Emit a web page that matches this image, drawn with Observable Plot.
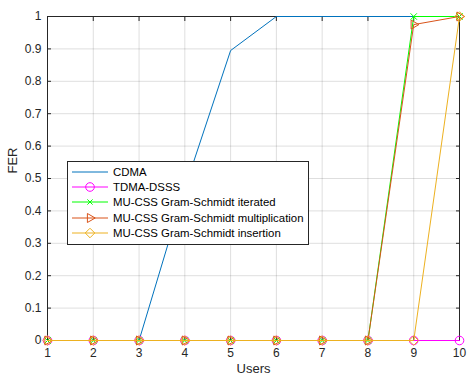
<!DOCTYPE html>
<html>
<head>
<meta charset="utf-8">
<script src="https://cdn.jsdelivr.net/npm/d3@7"></script>
<script src="https://cdn.jsdelivr.net/npm/@observablehq/plot@0.6"></script>
<style>
  html, body { margin: 0; padding: 0; background: #fff; }
  #wrap { position: relative; width: 474px; height: 382px; font-family: "Liberation Sans", Arial, sans-serif; }
  #legend { position: absolute; left: 67px; top: 161px; width: 242px; background: #fff; border: 1px solid #262626; box-sizing: border-box; padding: 2px 0 3px 0; }
  .row { display: flex; align-items: center; height: 15.4px; font-size: 11.4px; color: #000; white-space: nowrap; }
  .row svg { flex: none; margin-left: 4px; margin-right: 5px; }
</style>
</head>
<body>
<div id="wrap"></div>
<script>
const users = [1, 2, 3, 4, 5, 6, 7, 8, 9, 10];
const yTicks = [0, 0.1, 0.2, 0.3, 0.4, 0.5, 0.6, 0.7, 0.8, 0.9, 1];
const seriesNames = ["CDMA", "TDMA-DSSS", "MU-CSS Gram-Schmidt iterated", "MU-CSS Gram-Schmidt multiplication", "MU-CSS Gram-Schmidt insertion"];
const cdma          = [0, 0, 0, 0.47, 0.895, 1, 1, 1, 1, 1];
const tdma          = [0, 0, 0, 0, 0, 0, 0, 0, 0, 0];
const gsIterated    = [0, 0, 0, 0, 0, 0, 0, 0, 1, 1];
const gsMult        = [0, 0, 0, 0, 0, 0, 0, 0, 0.975, 1];
const gsInsertion   = [0, 0, 0, 0, 0, 0, 0, 0, 0, 1];
const colors  = ["#0072BD", "#FF00FF", "#00FF00", "#D95319", "#EDB120"];
const symbols = [null, "circle", "times", "triangle2", "diamond2"];
const rotations = [0, 0, 0, 90, 0];

const allValues = [cdma, tdma, gsIterated, gsMult, gsInsertion];
const rows = [];
allValues.forEach((vals, si) => vals.forEach((v, i) => rows.push({series: seriesNames[si], si, users: users[i], fer: v})));

const marks = [
  Plot.gridX(users, {stroke: "#000", strokeOpacity: 0.13}),
  Plot.gridY(yTicks, {stroke: "#000", strokeOpacity: 0.13}),
  Plot.frame({stroke: "#262626"}),
  Plot.axisX(users, {anchor: "bottom", tickSize: -4, tickPadding: 12, fontSize: 12, color: "#262626", stroke: "#262626", label: null}),
  Plot.axisX(users, {anchor: "top", tickSize: -4, tickFormat: () => "", stroke: "#262626", label: null}),
  Plot.axisY(yTicks, {anchor: "left", tickSize: -4, tickPadding: 10, fontSize: 12, color: "#262626", stroke: "#262626", label: null, tickFormat: d => String(d)}),
  Plot.axisY(yTicks, {anchor: "right", tickSize: -4, tickFormat: () => "", stroke: "#262626", label: null}),
  Plot.text(["Users"], {frameAnchor: "bottom", dy: 32, fontSize: 13, fill: "#262626"}),
  Plot.text(["FER"], {frameAnchor: "left", rotate: -90, dx: -35, dy: -5, fontSize: 13, fill: "#262626"})
];
seriesNames.forEach((name, si) => {
  const d = rows.filter(r => r.si === si);
  marks.push(Plot.line(d, {x: "users", y: "fer", stroke: colors[si], strokeWidth: 1}));
  if (symbols[si]) {
    marks.push(Plot.dot(d, {x: "users", y: "fer", stroke: colors[si], fill: "none", symbol: () => symbols[si], r: si === 2 ? 3 : 4.3, rotate: rotations[si], strokeWidth: 1}));
  }
});

const chart = Plot.plot({
  width: 474, height: 382,
  marginLeft: 47, marginRight: 15, marginTop: 16, marginBottom: 42,
  style: {fontFamily: "'Liberation Sans', Arial, sans-serif", background: "#fff"},
  x: {domain: [1, 10], axis: null},
  y: {domain: [0, 1], axis: null},
  marks
});
const wrap = document.getElementById("wrap");
wrap.appendChild(chart);

// legend
const legend = document.createElement("div");
legend.id = "legend";
seriesNames.forEach((name, si) => {
  const row = document.createElement("div");
  row.className = "row";
  const s = d3.create("svg").attr("width", 36).attr("height", 12);
  s.append("line").attr("x1", 0).attr("x2", 36).attr("y1", 6).attr("y2", 6).attr("stroke", colors[si]).attr("stroke-width", 1);
  if (symbols[si]) {
    const sym = {circle: d3.symbolCircle, times: d3.symbolTimes, triangle2: d3.symbolTriangle2, diamond2: d3.symbolDiamond2}[symbols[si]];
    const r = si === 2 ? 2.5 : 4.3;
    s.append("path").attr("d", d3.symbol(sym, Math.PI * r * r)()).attr("transform", `translate(18,6) rotate(${rotations[si]})`)
      .attr("fill", "none").attr("stroke", colors[si]).attr("stroke-width", 1);
  }
  row.appendChild(s.node());
  const t = document.createElement("span");
  t.textContent = name;
  row.appendChild(t);
  legend.appendChild(row);
});
wrap.appendChild(legend);
</script>
</body>
</html>
